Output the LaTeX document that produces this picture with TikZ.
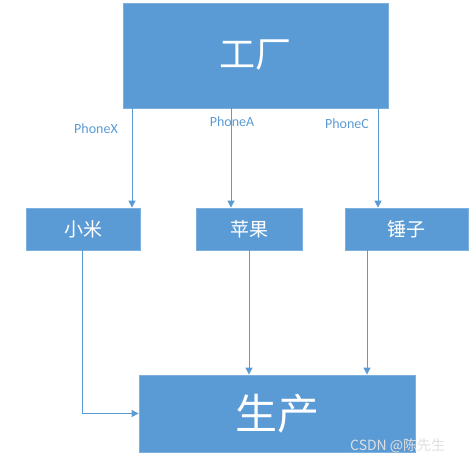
\documentclass[tikz,border=0pt]{standalone}
\usepackage{fontspec}
\setmainfont{Carlito}
\newfontfamily\cjk{Noto Sans CJK SC}
\usetikzlibrary{arrows.meta}
\definecolor{boxblue}{HTML}{5B9BD5}
\definecolor{edgeblue}{HTML}{7EB0DE}
\begin{document}
\begin{tikzpicture}[x=1pt,y=-1pt]
    \tikzstyle{every node}+=[inner sep=0pt]
    \tikzstyle{block}=[draw=edgeblue,fill=boxblue,text=white,line width=0.8pt]
    \tikzstyle{link}=[draw=boxblue,line width=1pt,-{Triangle[width=7pt,length=7pt]}]
    \tikzstyle{tag}=[text=boxblue,font=\fontsize{14}{16}\selectfont]
    \useasboundingbox (0,0) rectangle (474,460);
    \node [block,minimum width=265pt,minimum height=105pt,font=\cjk\fontsize{36}{40}\selectfont] (gongchang) at (255.5,55.5) {工厂};
    \node [block,minimum width=114pt,minimum height=42pt,font=\cjk\fontsize{19}{22}\selectfont] (xiaomi) at (83,229) {小米};
    \node [block,minimum width=106pt,minimum height=42pt,font=\cjk\fontsize{19}{22}\selectfont] (pingguo) at (249,229) {苹果};
    \node [block,minimum width=123pt,minimum height=42pt,font=\cjk\fontsize{19}{22}\selectfont] (chuizi) at (406.5,229) {锤子};
    \node [block,minimum width=276pt,minimum height=77pt,font=\cjk\fontsize{42}{46}\selectfont] (shengchan) at (277,413.5) {生产};
    \draw [link] (gongchang.south -| 132,0) -- (xiaomi.north -| 132,0);
    \node [tag] (phonex) at (96,129) {PhoneX};
    \draw [link] (gongchang.south -| 231,0) -- (pingguo.north -| 231,0);
    \node [tag] (phonea) at (232,122) {PhoneA};
    \draw [link] (gongchang.south -| 378,0) -- (chuizi.north -| 378,0);
    \node [tag] (phonec) at (347,124) {PhoneC};
    \draw [link] (xiaomi.south -| 82,0) |- (shengchan.west);
    \draw [link] (pingguo.south) -- (shengchan.north -| pingguo.south);
    \draw [link] (chuizi.south -| 367,0) -- (shengchan.north -| 367,0);
    \node [text=white!75!gray,font=\cjk\fontsize{14}{16}\selectfont,anchor=west] (mark) at (350,446) {CSDN @陈先生};
\end{tikzpicture}
\end{document}
